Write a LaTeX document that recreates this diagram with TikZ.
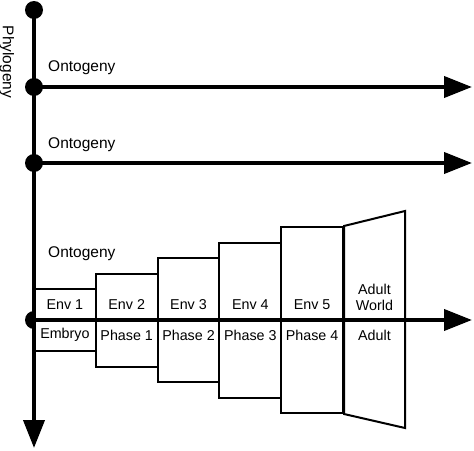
\documentclass[tikz,border=0pt]{standalone}
\usepackage{fontspec}
\setmainfont{Liberation Sans}
\usetikzlibrary{arrows.meta}

\begin{document}
\begin{tikzpicture}[x=1pt,y=-1pt,
	axis/.style={line width=4pt, -{Triangle[length=28pt,width=21pt]}},
	dot/.style={circle, fill, inner sep=0pt, minimum size=18pt},
	stage/.style={draw, line width=2pt, fill=white, inner sep=0pt, minimum width=61.8pt},
	lbl/.style={font=\fontsize{14.3}{16}\selectfont, align=center, inner sep=0pt},
	onto/.style={font=\fontsize{15.5}{18}\selectfont, inner sep=0pt}]
	\useasboundingbox (0,0) rectangle (474,450);

	% phylogeny axis with its points
	\node[dot] (p0) at (34,10) {};
	\node[dot] (p1) at (34,87) {};
	\node[dot] (p2) at (34,163) {};
	\node[dot] (p3) at (34,320) {};
	\coordinate (pend) at (34,448);
	\coordinate (e1) at (472,87);
	\coordinate (e2) at (472,163);
	\coordinate (e3) at (472,320);

	\draw (7,62) node[onto, rotate=-90] (phy) {Phylogeny};

	% stages along the last ontogeny
	\foreach \i/\env/\ph in {1/Env 1/Embryo, 2/Env 2/Phase 1, 3/Env 3/Phase 2, 4/Env 4/Phase 3, 5/Env 5/Phase 4}{
		\node[stage, minimum height=31*\i+31] (b\i) at (34+61.8*\i-30.9,320) {};
		\draw (b\i |- 0,305) node[lbl] (env\i) {\env};
		\draw (b\i |- 0,335) node[lbl] (ph\i) {\ph};
	}
	\draw[line width=2pt, fill=white] (b5.north east) -- (405,211) -- (405,428) -- (b5.south east) -- cycle;
	\draw (374.5,297) node[lbl] (world) {Adult\\World};
	\draw (374.5,335) node[lbl] (adult) {Adult};

	\draw[axis] (p0.center) -- (pend);
	\draw[axis] (p1.center) -- (e1);
	\draw[axis] (p2.center) -- (e2);
	\draw[axis] (p3.center) -- (e3);

	\draw (48,68) node[onto, anchor=west] (o1) {Ontogeny};
	\draw (48,145) node[onto, anchor=west] (o2) {Ontogeny};
	\draw (48,254) node[onto, anchor=west] (o3) {Ontogeny};
\end{tikzpicture}
\end{document}
